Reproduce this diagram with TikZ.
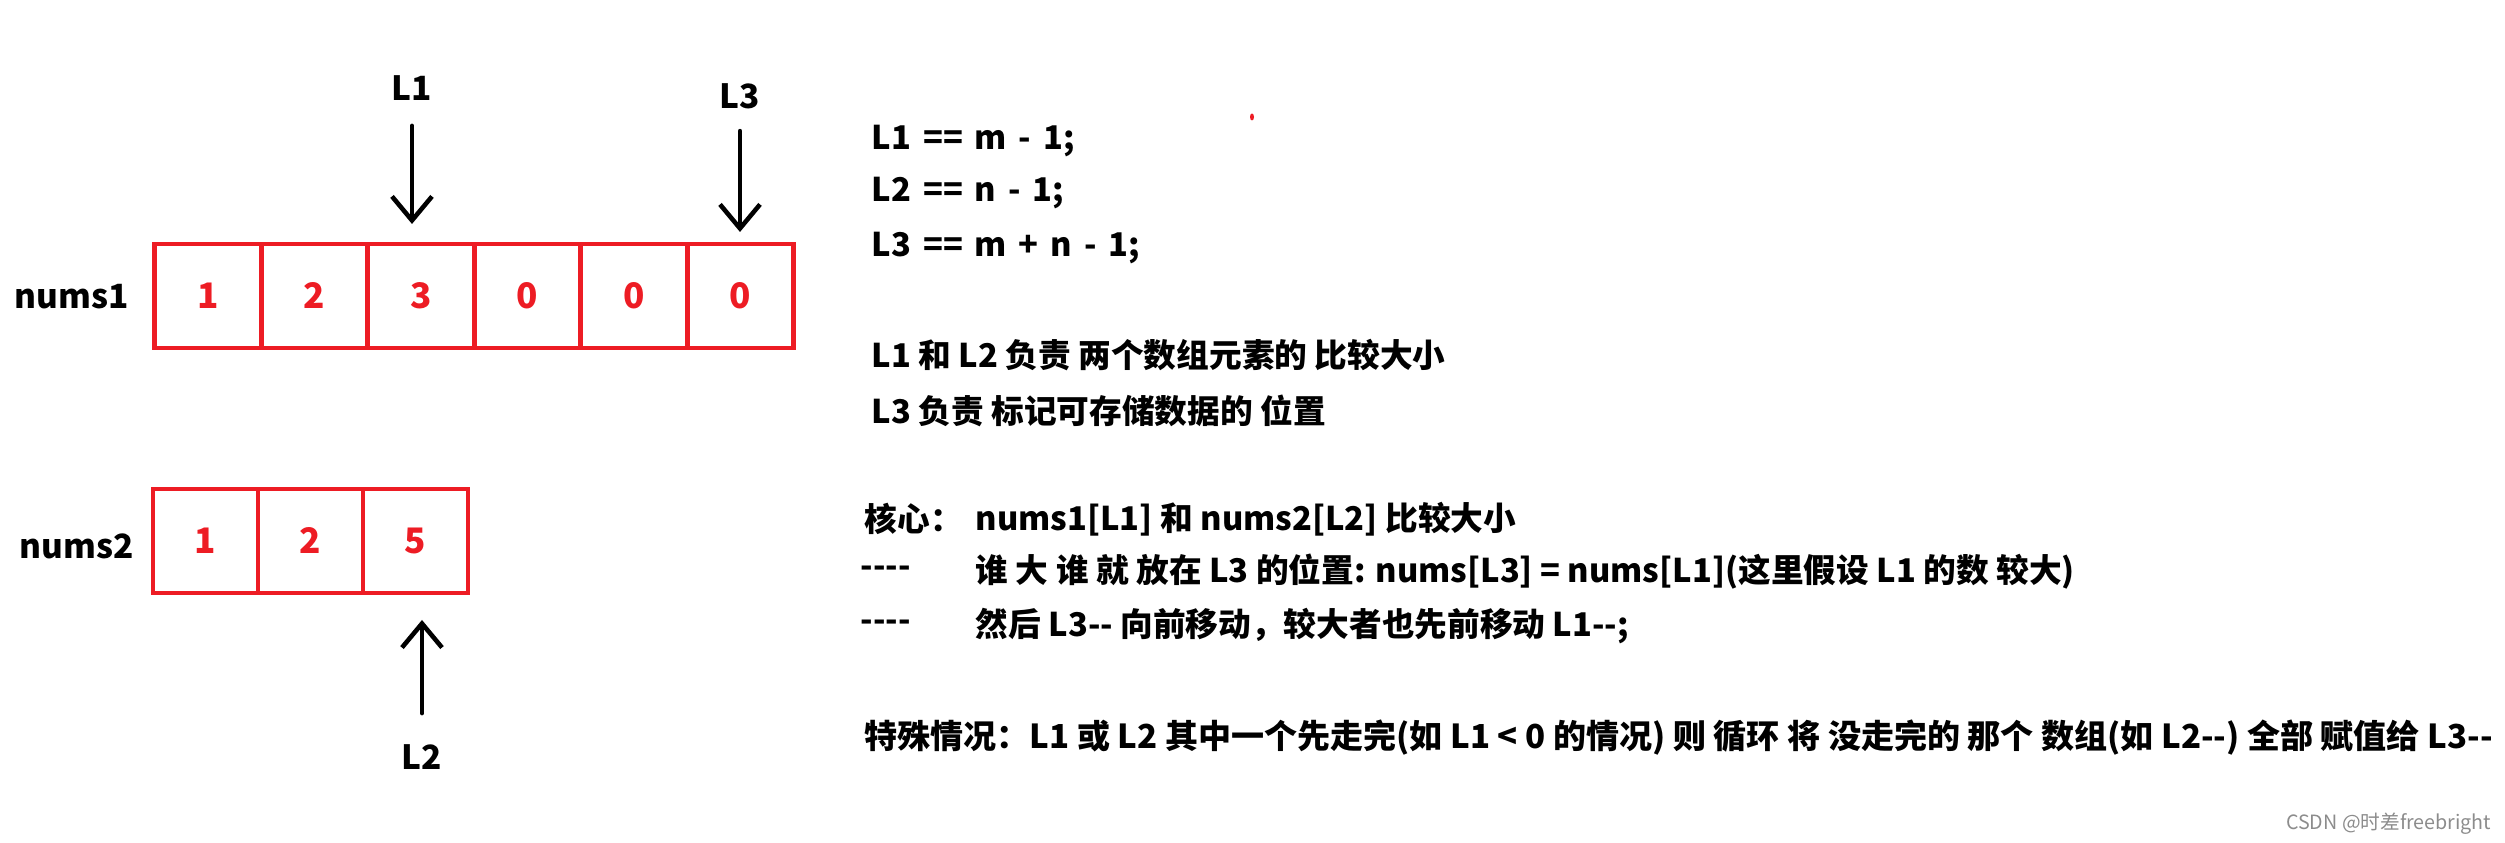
\documentclass[tikz,border=0pt]{standalone}
\usepackage{fontspec}
\setmainfont{Noto Sans CJK SC}
\usetikzlibrary{arrows.meta}
\usetikzlibrary{positioning}
\definecolor{vermelho}{RGB}{237,28,36}
\newcommand\espacolargo{\spaceskip=3.4pt\relax}

\begin{document}
\begin{tikzpicture}[
  cell/.style={draw=vermelho, line width=1.35pt, outer sep=0pt, minimum width=1.065cm,
    minimum height=1.04cm, text=vermelho, font=\fontsize{10}{12}\selectfont\bfseries},
  rotulo/.style={font=\fontsize{9.5}{11}\selectfont\bfseries},
  linha/.style={anchor=west, inner sep=0pt, font=\fontsize{9.3}{11}\selectfont\bfseries},
  formula/.style={linha, font={\fontsize{9.3}{11}\selectfont\bfseries\espacolargo}},
  ptr/.style={line width=1.3pt, line cap=round, -{Straight Barb[length=2.4mm,width=4mm]}}
]
\useasboundingbox (0,0) rectangle (25.05,8.43);

% vetor nums1
\node[rotulo] (nums1) at (0.72,5.46) {nums1};
\node[cell] (a1) at (2.08,5.47) {1};
\node[cell, right=0pt of a1] (a2) {2};
\node[cell, right=0pt of a2] (a3) {3};
\node[cell, right=0pt of a3] (a4) {0};
\node[cell, right=0pt of a4] (a5) {0};
\node[cell, right=0pt of a5] (a6) {0};

% vetor nums2
\node[rotulo] (nums2) at (0.77,2.97) {nums2};
\node[cell, minimum width=1.05cm] (b1) at (2.055,3.02) {1};
\node[cell, minimum width=1.05cm, right=0pt of b1] (b2) {2};
\node[cell, minimum width=1.05cm, right=0pt of b2] (b3) {5};

% ponteiros
\node[rotulo] (L1) at (4.12,7.55) {L1};
\node[rotulo] (L3) at (7.40,7.47) {L3};
\node[rotulo] (L2) at (4.22,0.86) {L2};
\draw[ptr, shorten <=0.13cm, shorten >=0.2cm] (L1) -- (L1 |- a3.north);
\draw[ptr, shorten <=0.1cm, shorten >=0.12cm] (L3) -- (L3 |- a6.north);
\draw[ptr, shorten <=0.19cm, shorten >=0.27cm] (L2) -- (L2 |- b3.south);

% ponto vermelho
\fill[vermelho] (12.52,7.26) ellipse [x radius=0.02, y radius=0.035];

% texto
\node[formula] (t1) at (8.71,7.02) {L1 == m - 1;};
\node[formula] (t2) at (8.71,6.50) {L2 == n - 1;};
\node[formula] (t3) at (8.71,5.95) {L3 == m + n - 1;};

\node[linha] (t4) at (8.71,4.88) {L1 和 L2 负责 两个数组元素的 比较大小};
\node[linha] (t5) at (8.71,4.32) {L3 负责 标记可存储数据的 位置};

\node[linha] (t6a) at (8.64,3.24) {核心：};
\node[linha] (t6) at (9.75,3.24) {nums1[L1] 和 nums2[L2] 比较大小};
\node[linha] (t7a) at (8.60,2.71) {-{}-{}-{}-};
\node[linha] (t7) at (9.75,2.71) {谁 大 谁 就 放在 L3 的位置: nums[L3] = nums[L1](这里假设 L1 的数 较大)};
\node[linha] (t8a) at (8.60,2.17) {-{}-{}-{}-};
\node[linha] (t8) at (9.75,2.17) {然后 L3-{}- 向前移动，较大者也先前移动 L1-{}-;};

\node[linha, font=\fontsize{9.4}{11}\selectfont\bfseries] (t9) at (8.64,1.05) {特殊情况：L1 或 L2 其中一个先走完(如 L1 < 0 的情况) 则 循环 将 没走完的 那个 数组(如 L2-{}-) 全部 赋值给 L3-{}-};

% marca d'agua
\node[anchor=east, inner sep=0pt, text=black!45, font=\fontsize{5.6}{7}\selectfont] (csdn) at (24.92,0.19) {CSDN @时差freebright};

\end{tikzpicture}
\end{document}
